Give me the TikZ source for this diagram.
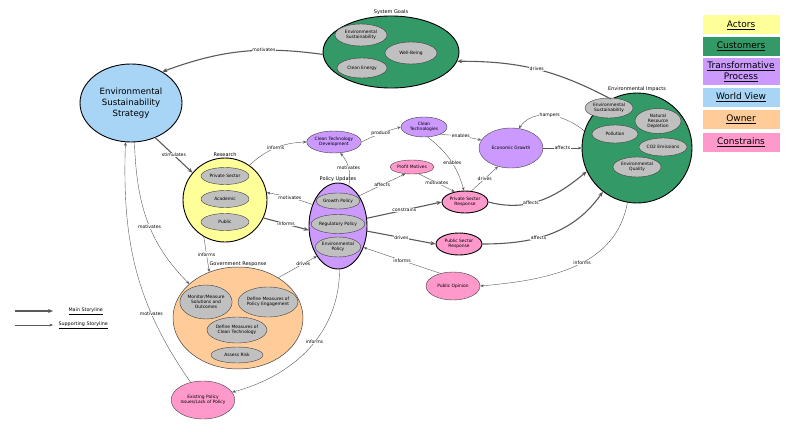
\documentclass[tikz,border=0pt]{standalone}
\usepackage{fontspec}
\setmainfont{DejaVu Sans}
\usepackage{xcolor}
\usetikzlibrary{shapes.geometric, arrows.meta, positioning}

\definecolor{goalgreen}{RGB}{51,153,102}
\definecolor{actoryellow}{RGB}{255,255,153}
\definecolor{procpurple}{RGB}{204,153,255}
\definecolor{viewblue}{RGB}{168,212,245}
\definecolor{ownerpeach}{RGB}{255,204,153}
\definecolor{conspink}{RGB}{255,153,204}
\definecolor{itemgray}{RGB}{192,192,192}
\definecolor{linegray}{RGB}{90,90,90}

\begin{document}
\begin{tikzpicture}[
    x=1pt, y=-1pt,
    node distance=2pt and 2pt,
    group/.style={draw, ellipse, line width=0.9pt, inner sep=0},
    item/.style={draw=gray!50!black, ellipse, fill=itemgray, inner sep=0, align=center, font=\fontsize{4.4}{5}\selectfont},
    proc/.style={draw=gray!50!black, ellipse, fill=procpurple, inner sep=0, align=center, font=\fontsize{4.4}{5}\selectfont},
    cons/.style={draw=gray!50!black, ellipse, fill=conspink, inner sep=0, align=center, font=\fontsize{4.4}{5}\selectfont},
    ttl/.style={font=\fontsize{5}{6}\selectfont, inner sep=0.5pt},
    lbl/.style={font=\fontsize{4.6}{5}\selectfont, fill=white, inner sep=0.4pt},
    legbox/.style={minimum width=77, minimum height=19, inner sep=0, align=center, font=\fontsize{9}{10.5}\selectfont},
    mainarr/.style={-{Stealth[length=5pt,width=4pt]}, line width=1.1pt, draw=linegray},
    supparr/.style={-{Stealth[length=3.5pt,width=2.8pt]}, line width=0.4pt, draw=gray!70!black}
]
\useasboundingbox (0,0) rectangle (800,428);

% World view
\node[group, fill=viewblue, minimum width=102, minimum height=78, align=center, font=\fontsize{8.6}{11}\selectfont] (strategy) at (131,103) {Environmental\\Sustainability\\Strategy};

% System goals
\node[group, fill=goalgreen, minimum width=136, minimum height=72] (goals) at (391,52) {};
\node[ttl, above=0pt of goals] (goalsttl) {System Goals};
\node[item, minimum width=52, minimum height=22] (gsust) at (361,35) {Environmental\\Sustainability};
\node[item, minimum width=52, minimum height=22] (gwell) at (411,53) {Well-Being};
\node[item, minimum width=50, minimum height=20] (genergy) at (362,68) {Clean Energy};

% Research
\node[group, fill=actoryellow, minimum width=84, minimum height=84] (research) at (225,200) {};
\node[ttl, above=0pt of research] (researchttl) {Research};
\node[item, minimum width=48, minimum height=17] (rprivate) at (225,176) {Private Sector};
\node[item, minimum width=48, minimum height=17] (racademic) at (225,199) {Academic};
\node[item, minimum width=48, minimum height=17] (rpublic) at (225,222) {Public};

% Policy updates
\node[group, fill=procpurple, minimum width=58, minimum height=86] (policy) at (338,226) {};
\node[ttl, above=0pt of policy] (policyttl) {Policy Updates};
\node[item, minimum width=44, minimum height=16] (pgrowth) at (338,201) {Growth Policy};
\node[item, minimum width=48, minimum height=19] (pregul) at (338,224) {Regulatory Policy};
\node[item, minimum width=44, minimum height=20] (penv) at (338,247) {Environmental\\Policy};

% Transformative process
\node[proc, minimum width=48, minimum height=22] (ctdev) at (334,142) {Clean Technology\\Development};
\node[proc, minimum width=46, minimum height=20] (cleantech) at (424,127) {Clean\\Technologies};
\node[proc, minimum width=64, minimum height=40] (growth) at (511,148) {Economic Growth};

% Constrains
\node[cons, minimum width=44, minimum height=14] (profit) at (412,167) {Profit Motives};
\node[cons, draw=black, line width=0.9pt, minimum width=46, minimum height=22] (privresp) at (465,202) {Private Sector\\Response};
\node[cons, draw=black, line width=0.9pt, minimum width=46, minimum height=22] (pubresp) at (459,244) {Public Sector\\Response};
\node[cons, minimum width=54, minimum height=28] (opinion) at (453,286) {Public Opinion};
\node[cons, minimum width=62, minimum height=38] (existing) at (203,400) {Existing Policy\\Issues/Lack of Policy};

% Environmental impacts
\node[group, fill=goalgreen, minimum width=110, minimum height=110] (impacts) at (637,148) {};
\node[ttl, above=0pt of impacts] (impactsttl) {Environmental Impacts};
\node[item, minimum width=48, minimum height=20] (isust) at (609,108) {Environmental\\Sustainability};
\node[item, minimum width=46, minimum height=25] (ideplete) at (658,121) {Natural\\Resource\\Depletion};
\node[item, minimum width=46, minimum height=18] (ipollute) at (615,134) {Pollution};
\node[item, minimum width=48, minimum height=18] (ico2) at (663,147) {CO2 Emissions};
\node[item, minimum width=48, minimum height=20] (iquality) at (637,167) {Environmental\\Quality};

% Government response
\node[group, draw=gray!50!black, line width=0.5pt, fill=ownerpeach, minimum width=130, minimum height=102] (govt) at (238,318) {};
\node[ttl, above=0pt of govt] (govtttl) {Government Response};
\node[item, minimum width=48, minimum height=34] (gmonitor) at (206,302) {Monitor/Measure\\Solutions and\\Outcomes};
\node[item, minimum width=60, minimum height=30] (gengage) at (268,302) {Define Measures of\\Policy Engagement};
\node[item, minimum width=56, minimum height=26] (gclean) at (237,330) {Define Measures of\\Clean Technology};
\node[item, minimum width=52, minimum height=16] (grisk) at (237,355) {Assess Risk};

% Legend
\node[legbox, fill=actoryellow] (lactors) at (741,25) {\underline{Actors}};
\node[legbox, fill=goalgreen, below=of lactors] (lcustomers) {\underline{Customers}};
\node[legbox, fill=procpurple, minimum height=27, below=of lcustomers] (lprocess) {\underline{Transformative}\\\underline{Process}};
\node[legbox, fill=viewblue, below=of lprocess] (lview) {\underline{World View}};
\node[legbox, fill=ownerpeach, below=3pt of lview] (lowner) {\underline{Owner}};
\node[legbox, fill=conspink, below=3pt of lowner] (lcons) {\underline{Constrains}};

\coordinate (mainstart) at (15,311);
\coordinate (mainend) at (53,311);
\coordinate (suppstart) at (15,325);
\coordinate (suppend) at (53,325);
\node[lbl, font=\fontsize{4.8}{5}\selectfont, anchor=west] (lmain) at (68,311) {\underline{Main Storyline}};
\node[lbl, font=\fontsize{4.8}{5}\selectfont, anchor=west] (lsupp) at (58,325) {\underline{Supporting Storyline}};
\draw[mainarr] (mainstart) -- (mainend);
\draw[supparr] (suppstart) -- (suppend);

% Main storyline
\draw[mainarr] (goals.182) to[bend right=14] node[lbl, pos=0.35] {motivates} (strategy.45);
\draw[mainarr] (impacts.118) to[bend right=14] node[lbl] {drives} (goals.-8);
\draw[mainarr] (strategy.-55) -- node[lbl] {stimulates} (research.140);
\draw[mainarr] (research.-25) -- node[lbl] {informs} (policy.188);
\draw[mainarr] (policy.15) -- node[lbl] {constrains} (privresp.west);
\draw[mainarr] (policy.-10) -- node[lbl] {drives} (pubresp.west);
\draw[mainarr] (privresp.east) to[out=-15, in=220] node[lbl, pos=0.4] {affects} (impacts.205);
\draw[mainarr] (pubresp.east) to[out=0, in=235] node[lbl, pos=0.4] {affects} (impacts.232);

% Supporting storyline
\draw[supparr] (research.55) to[bend left=20] node[lbl] {informs} (ctdev.west);
\draw[supparr] (policy.140) to[bend right=5] node[lbl] {motivates} (research.10);
\draw[supparr] (policy.75) to[bend right=25] node[lbl] {motivates} (ctdev.-60);
\draw[supparr] (ctdev.east) to[bend left=5] node[lbl] {produce} (cleantech.west);
\draw[supparr] (cleantech.-25) to[bend left=5] node[lbl] {enables} (growth.165);
\draw[supparr] (cleantech.-70) to[bend left=18] node[lbl, pos=0.55] {enables} (privresp.95);
\draw[supparr] (policy.55) -- node[lbl] {affects} (profit.-135);
\draw[supparr] (profit.-45) -- node[lbl] {motivates} (privresp.135);
\draw[supparr] (privresp.60) -- node[lbl] {drives} (growth.-125);
\draw[supparr] (growth.east) -- node[lbl] {affects} (impacts.180);
\draw[supparr] (impacts.162) to[out=140, in=55] node[lbl, pos=0.5] {hampers} (growth.68);
\draw[supparr] (impacts.-100) to[out=-100, in=5] node[lbl, pos=0.45] {informs} (opinion.east);
\draw[supparr] (opinion.135) -- node[lbl] {informs} (policy.-40);
\draw[supparr] (govt.45) -- node[lbl, pos=0.65] {drives} (policy.-125);
\draw[supparr] (research.-120) -- node[lbl] {informs} (govt.122);
\draw[supparr] (strategy.-85) to[out=-88, in=135] node[lbl, pos=0.55] {motivates} (govt.145);
\draw[supparr] (existing.125) to[out=125, in=-92] node[lbl, pos=0.3] {motivates} (strategy.-98);
\draw[supparr] (policy.-88) to[out=-90, in=15] node[lbl, pos=0.45] {informs} (existing.15);

\end{tikzpicture}
\end{document}
